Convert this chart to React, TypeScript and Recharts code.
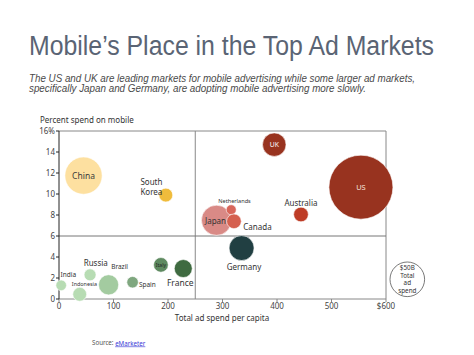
import React from 'react';
import { ScatterChart, Scatter, XAxis, YAxis, ReferenceLine } from 'recharts';

// ---- data ----
const countries = ['China', 'South Korea', 'Japan', 'Netherlands', 'Canada', 'UK', 'US', 'Australia', 'Germany', 'Italy', 'France', 'Spain', 'Brazil', 'Russia', 'India', 'Indonesia'];
const adSpendPerCapita = [45, 196, 289, 316, 321, 395, 554, 444, 335, 187, 228, 135, 91, 57, 4, 38];
const mobileSharePct = [11.75, 9.9, 7.5, 8.5, 7.4, 14.7, 10.65, 8.05, 4.85, 3.25, 2.9, 1.6, 1.35, 2.3, 1.3, 0.45];
const totalAdSpendB = [58, 8, 38, 4.2, 9, 23, 171, 9, 26, 9, 13.5, 5.5, 17, 6, 4.7, 8];
const xTicks = [0, 100, 200, 300, 400, 500, 600];
const yTicks = [0, 2, 4, 6, 8, 10, 12, 14, 16];
const legendValueB = 50;

const data = countries.map((name, i) => ({ name, x: adSpendPerCapita[i], y: mobileSharePct[i], spend: totalAdSpendB[i] }));

// ---- styles ----
const FONT = '"Noto Sans", "DejaVu Sans", sans-serif';
const LEGEND_R = 17.3;
const bubbleRadius = (v: number) => LEGEND_R * Math.sqrt(v / legendValueB);

const colors: Record<string, string> = {
  China: '#FDE0A0', 'South Korea': '#F0BC3C', Japan: '#D98A86', Netherlands: '#D8665A', Canada: '#D5604F',
  UK: '#98331F', US: '#98331F', Australia: '#BE3C26', Germany: '#213F42', Italy: '#5E8A60', France: '#3F6B41',
  Spain: '#7FA77F', Brazil: '#A3CBA0', Russia: '#B7DCB3', India: '#B7DCB3', Indonesia: '#B7DCB3',
};

type Place = { dx: number; dy: number; anchor?: 'start' | 'middle' | 'end'; size: number; fill?: string; lines?: string[] };
const labelPlace: Record<string, Place> = {
  China: { dx: 0, dy: 0, size: 8.5, fill: '#3a3a3a' },
  'South Korea': { dx: -25.4, dy: -13.6, anchor: 'start', size: 8, lines: ['South', 'Korea'] },
  Japan: { dx: -1, dy: 0, size: 8 },
  Netherlands: { dx: 3.3, dy: -8.7, size: 5.6 },
  Canada: { dx: 9.3, dy: 5, anchor: 'start', size: 8 },
  UK: { dx: 0, dy: 0, size: 6.8, fill: '#ffffff' },
  US: { dx: 0, dy: 0, size: 7.5, fill: '#f4e2dc' },
  Australia: { dx: 0, dy: -12.3, size: 8 },
  Germany: { dx: 2.4, dy: 18, size: 8 },
  Italy: { dx: 0, dy: 0, size: 5, fill: '#222' },
  France: { dx: -3, dy: 14, size: 8.5 },
  Spain: { dx: 6.3, dy: 2.3, anchor: 'start', size: 6.5 },
  Brazil: { dx: 11, dy: -18, size: 6.5 },
  Russia: { dx: 5.7, dy: -12.6, size: 8 },
  India: { dx: -0.6, dy: -11.3, anchor: 'start', size: 6.5 },
  Indonesia: { dx: 4.7, dy: -10.7, size: 5.4 },
};

const Bubble = (props: any) => {
  const { cx, cy, payload } = props;
  if (cx == null || cy == null) return null;
  const r = bubbleRadius(payload.spend);
  const p = labelPlace[payload.name];
  const lines = p.lines ?? [payload.name];
  const lh = p.size * 1.2;
  return (
    <g>
      <circle cx={cx} cy={cy} r={r} fill={colors[payload.name]} stroke="#ffffff" strokeWidth={0.6} />
      {lines.map((t, i) => (
        <text key={i} x={cx + p.dx} y={cy + p.dy + i * lh} textAnchor={p.anchor ?? 'middle'} dominantBaseline="central"
          fontSize={p.size} fontFamily={FONT} fill={p.fill ?? '#333'}>{t}</text>
      ))}
    </g>
  );
};

const tickStyle = { fontSize: 8, fontFamily: FONT, fill: '#444' };

export default function App() {
  return (
    <div style={{ position: 'absolute', left: 0, top: 0, width: 474, height: 355, background: '#fff' }}>
      <div style={{ position: 'absolute', left: 0, top: 0 }}>
        <ScatterChart width={474} height={355} margin={{ top: 131, right: 88, bottom: 0, left: 0 }}>
          <XAxis type="number" dataKey="x" domain={[0, 600]} ticks={xTicks} tickFormatter={(v: number) => (v === 600 ? '$600' : String(v))}
            height={56} stroke="#888" tickSize={3} tickMargin={1} tick={tickStyle} interval={0} />
          <YAxis type="number" dataKey="y" domain={[0, 16]} ticks={yTicks} tickFormatter={(v: number) => (v === 16 ? '16%' : String(v))}
            width={59} stroke="#222" tickSize={3} tickMargin={1} tick={tickStyle} interval={0} />
          <ReferenceLine y={16} stroke="#888" strokeWidth={1} ifOverflow="visible" />
          <ReferenceLine x={600} stroke="#888" strokeWidth={1} ifOverflow="visible" />
          <ReferenceLine x={250} stroke="#888" strokeWidth={1} />
          <ReferenceLine y={6} stroke="#777" strokeWidth={1} />
          <Scatter data={data} shape={(p: any) => <Bubble {...p} />} isAnimationActive={false} />
        </ScatterChart>
      </div>
      <svg width={474} height={355} style={{ position: 'absolute', left: 0, top: 0, pointerEvents: 'none' }}>
        <text x={29} y={55} fontSize={27} fontFamily='"Liberation Sans", Arial, sans-serif' fill="#5A6474" textLength={405} lengthAdjust="spacingAndGlyphs">
          Mobile’s Place in the Top Ad Markets
        </text>
        <text x={29} y={82} fontSize={10} fontStyle="italic" fontFamily='"Liberation Sans", Arial, sans-serif' fill="#4a4a4a" textLength={386} lengthAdjust="spacingAndGlyphs">
          The US and UK are leading markets for mobile advertising while some larger ad markets,
        </text>
        <text x={29} y={91.5} fontSize={10} fontStyle="italic" fontFamily='"Liberation Sans", Arial, sans-serif' fill="#4a4a4a" textLength={337} lengthAdjust="spacingAndGlyphs">
          specifically Japan and Germany,  are adopting mobile advertising more slowly.
        </text>
        <text x={40} y={119} dominantBaseline="central" fontSize={8} fontFamily={FONT} fill="#333">Percent spend on mobile</text>
        <text x={222} y={317} dominantBaseline="central" textAnchor="middle" fontSize={8} fontFamily={FONT} fill="#333">Total ad spend per capita</text>
        <circle cx={407.3} cy={279.3} r={bubbleRadius(legendValueB)} fill="#fff" stroke="#555" strokeWidth={0.8} />
        {['$50B', 'Total', 'ad', 'spend'].map((t, i) => (
          <text key={t} x={407.3} y={267.5 + i * 7.6} dominantBaseline="central" textAnchor="middle" fontSize={6.3} fontFamily={FONT} fill="#333">{t}</text>
        ))}
        <text x={92} y={342.5} dominantBaseline="central" fontSize={6.2} fontFamily={FONT} fill="#555">
          Source: <tspan fill="#3b3bd6" textDecoration="underline">eMarketer</tspan>
        </text>
      </svg>
    </div>
  );
}
